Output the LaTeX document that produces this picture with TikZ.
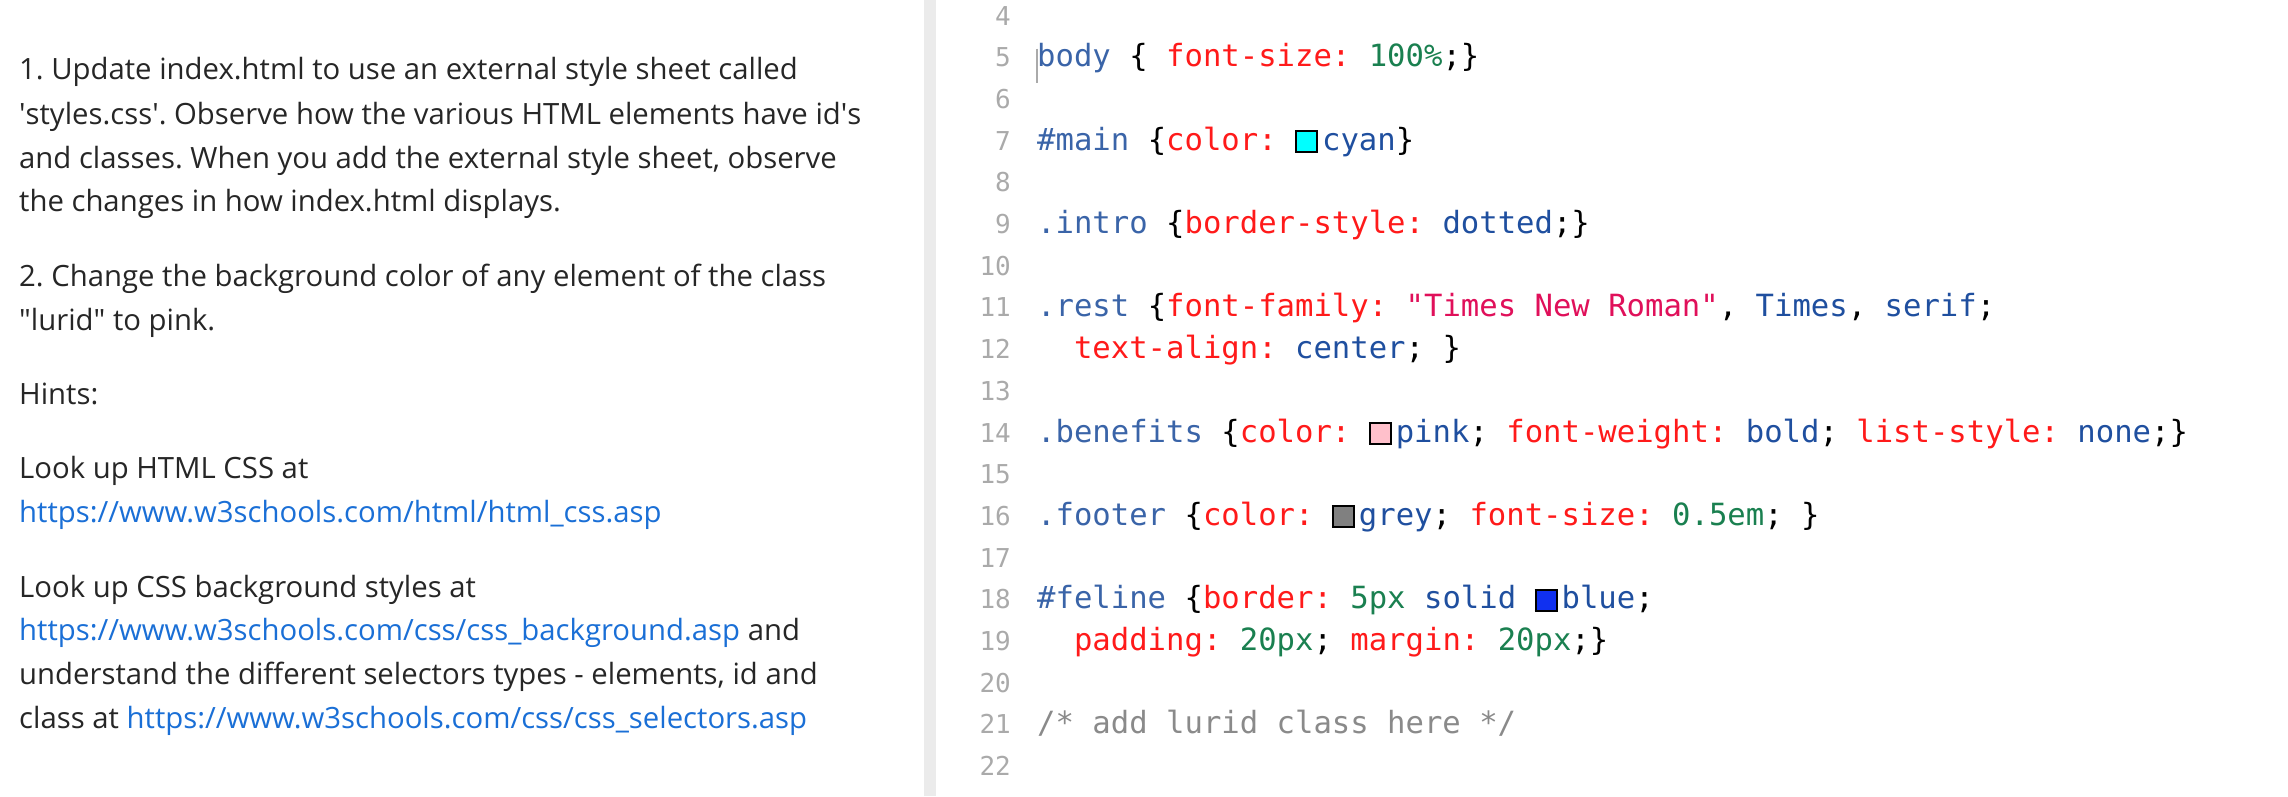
\documentclass[tikz,border=0pt]{standalone}
\usepackage{fontspec}
\setmainfont{Open Sans}
\setmonofont{DejaVu Sans Mono}
\definecolor{linkblue}{HTML}{1A6FD6}
\definecolor{selblue}{HTML}{3A64A8}
\definecolor{valblue}{HTML}{1F4F9F}
\definecolor{propred}{HTML}{FF1A1A}
\definecolor{numgreen}{HTML}{1A8050}
\definecolor{strred}{HTML}{E0105A}
\definecolor{cmtgrey}{HTML}{8A8A8A}
\definecolor{lnogrey}{HTML}{AAAAAA}
\definecolor{divgrey}{HTML}{EBEBEB}
\definecolor{swcyan}{HTML}{00FFFF}
\definecolor{swpink}{HTML}{FFC0CB}
\definecolor{swgrey}{HTML}{808080}
\definecolor{swblue}{HTML}{1030F0}
\frenchspacing
\newcommand{\swatch}[1]{\raisebox{-1pt}{\fboxsep=0pt\fboxrule=2pt\fcolorbox{black}{#1}{\rule{0pt}{19pt}\rule{19pt}{0pt}}}\hspace{4pt}}
\newcommand{\sel}[1]{\textcolor{selblue}{#1}}
\newcommand{\prp}[1]{\textcolor{propred}{#1}}
\newcommand{\val}[1]{\textcolor{valblue}{#1}}
\newcommand{\num}[1]{\textcolor{numgreen}{#1}}
\newcommand{\sq}{\textquotesingle}
\newcommand{\dq}{\textquotedbl}
\begin{document}
\begin{tikzpicture}[x=1pt,y=-1pt]
\tikzstyle{txt}=[anchor=base west,inner sep=0pt,font=\fontsize{29.3}{34}\selectfont,text=black!85]
\tikzstyle{link}=[txt,text=linkblue]
\tikzstyle{code}=[anchor=base west,inner sep=0pt,font=\ttfamily\fontsize{30.6}{36}\selectfont]
\tikzstyle{lineno}=[anchor=base east,inner sep=0pt,font=\ttfamily\fontsize{26}{30}\selectfont,text=lnogrey]
\useasboundingbox (0,0) rectangle (2288,796);
\fill[divgrey] (924,0) rectangle (936,796);
% task text
\node[txt] (t1) at (19,79) {1. Update index.html to use an external style sheet called};
\node[txt] (t2) at (19,124) {\sq styles.css\sq. Observe how the various HTML elements have id\sq s};
\node[txt] (t3) at (19,168) {and classes. When you add the external style sheet, observe};
\node[txt] (t4) at (19,211) {the changes in how index.html displays.};
\node[txt] (t5) at (19,286) {2. Change the background color of any element of the class};
\node[txt] (t6) at (19,330) {\dq lurid\dq{} to pink.};
\node[txt] (h1) at (19,404) {Hints:};
\node[txt] (h2) at (19,478) {Look up HTML CSS at};
\node[link] (h3) at (19,522) {https://www.w3schools.com/html/html\_css.asp};
\node[txt] (h4) at (19,597) {Look up CSS background styles at};
\node[txt] (h5) at (19,640) {\textcolor{linkblue}{https://www.w3schools.com/css/css\_background.asp} and};
\node[txt] (h6) at (19,684) {understand the different selectors types - elements, id and};
\node[txt] (h7) at (19,728) {class at \textcolor{linkblue}{https://www.w3schools.com/css/css\_selectors.asp}};
% line numbers
\foreach \n in {4,...,22}
  \node[lineno] (n\n) at (1011,{25+(\n-4)*41.7}) {\n};
% code
\draw[lnogrey,line width=2pt] (1037,{33+41.7-26}) -- (1037,{33+41.7+8});
\node[code] (c5) at (1037,{25+1*41.7}) {\sel{body} \{ \prp{font-size:} \num{100\%};\}};
\node[code] (c7) at (1037,{25+3*41.7}) {\sel{\#main} \{\prp{color:} \swatch{swcyan}\val{cyan}\}};
\node[code] (c9) at (1037,{25+5*41.7}) {\sel{.intro} \{\prp{border-style:} \val{dotted};\}};
\node[code] (c11) at (1037,{25+7*41.7}) {\sel{.rest} \{\prp{font-family:} \textcolor{strred}{"Times New Roman"}, \val{Times}, \val{serif};};
\node[code] (c12) at (1037,{25+8*41.7}) {\hphantom{xx}\prp{text-align:} \val{center}; \}};
\node[code] (c14) at (1037,{25+10*41.7}) {\sel{.benefits} \{\prp{color:} \swatch{swpink}\val{pink}; \prp{font-weight:} \val{bold}; \prp{list-style:} \val{none};\}};
\node[code] (c16) at (1037,{25+12*41.7}) {\sel{.footer} \{\prp{color:} \swatch{swgrey}\val{grey}; \prp{font-size:} \num{0.5em}; \}};
\node[code] (c18) at (1037,{25+14*41.7}) {\sel{\#feline} \{\prp{border:} \num{5px} \val{solid} \swatch{swblue}\val{blue};};
\node[code] (c19) at (1037,{25+15*41.7}) {\hphantom{xx}\prp{padding:} \num{20px}; \prp{margin:} \num{20px};\}};
\node[code,text=cmtgrey] (c21) at (1037,{25+17*41.7}) {/* add lurid class here */};
\end{tikzpicture}
\end{document}
